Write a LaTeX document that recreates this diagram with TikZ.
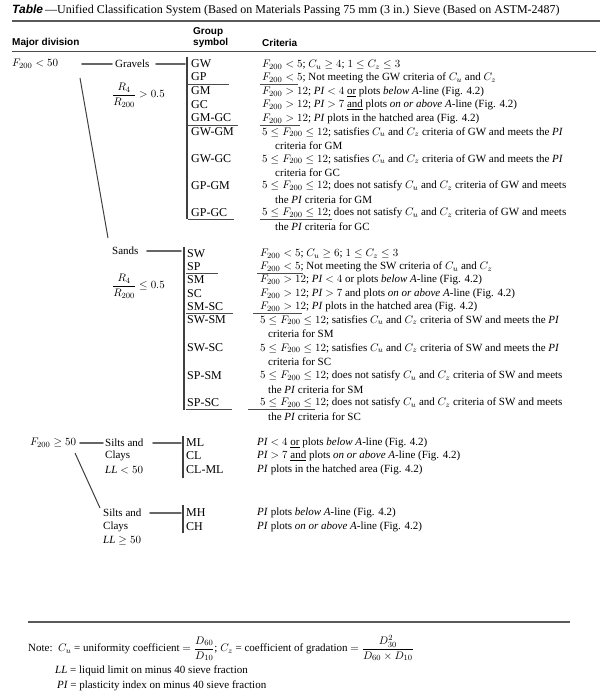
\documentclass[tikz,border=0pt]{standalone}
\usepackage{fontspec}
\setmainfont{Liberation Serif}
\setsansfont{Liberation Sans}
\usepackage{amsmath}
\begin{document}
\begin{tikzpicture}[x=1pt,y=-1pt,
  txt/.style={anchor=west,inner sep=0pt,font=\fontsize{11}{12}\selectfont},
  sym/.style={anchor=west,inner sep=0pt,font=\fontsize{12}{12}\selectfont},
  hdr/.style={anchor=west,inner sep=0pt,font=\sffamily\bfseries\fontsize{10}{11}\selectfont},
  bar/.style={line width=1.4pt,black!75},
  arr/.style={line width=1.8pt,black!60,line cap=round},
  thin/.style={line width=0.5pt,black!70},
  rule/.style={line width=2pt,black!65}]
\useasboundingbox (0,0) rectangle (607,700);
\newcommand{\F}{F_{200}}
\newcommand{\crit}[4]{\node[txt] (#1) at (#2,#3) {#4};}
% title
\node[txt,font=\fontsize{12}{13}\selectfont] (title) at (12,10) {\sffamily\bfseries\itshape Table\,\rmfamily\upshape\mdseries ---Unified Classification System (Based on Materials Passing 75 mm (3 in.) Sieve (Based on ASTM-2487)};
\draw[rule] (12,21) -- (600,21);
\node[hdr] (h1) at (12,43) {Major division};
\node[hdr] (h2) at (193,32) {Group};
\node[hdr] (h3) at (193,43) {symbol};
\node[hdr] (h4) at (262,43) {Criteria};
\draw[thin] (12,51) -- (596,51);
% gravels
\node[txt] (f1) at (12,64) {$\F<50$};
\draw[arr] (82,64) -- (112,64);
\node[txt] (grav) at (115,64) {Gravels};
\draw[arr] (156,64) -- (185,64);
\draw[bar] (187,57) -- (187,219);
\draw[line width=1pt,black!75] (80,78) -- (108,238);
\node[txt] (r1) at (112,95) {$\dfrac{R_4}{R_{200}}>0.5$};
\foreach \s/\y in {GW/64,GP/77,GM/91,GC/105,GM-GC/118,GW-GM/132,GW-GC/159,GP-GM/186,GP-GC/213}
  \node[sym] (g\s) at (191,\y) {\s};
\draw[thin] (188,84) -- (229,84);
\draw[thin] (188,125) -- (238,125);
\draw[thin] (188,219) -- (234,219);
\draw[thin] (260,84) -- (298,84);
\draw[thin] (260,125) -- (300,125);
\draw[thin] (260,219) -- (332,219);
\crit{c1}{262}{65}{$\F<5$; $C_u\geq 4$; $1\leq C_z\leq 3$}
\crit{c2}{262}{78}{$\F<5$; Not meeting the GW criteria of $C_u$ and $C_z$}
\crit{c3}{262}{92}{$\F>12$; $\mathit{PI}<4$ \underline{or} plots \textit{below A}-line (Fig. 4.2)}
\crit{c4}{262}{105}{$\F>12$; $\mathit{PI}>7$ \underline{and} plots \textit{on or above A}-line (Fig. 4.2)}
\crit{c5}{262}{119}{$\F>12$; \textit{PI} plots in the hatched area (Fig. 4.2)}
\crit{c6}{262}{132}{$5\leq\F\leq12$; satisfies $C_u$ and $C_z$ criteria of GW and meets the \textit{PI}}
\crit{c6b}{275}{146}{criteria for GM}
\crit{c7}{262}{159}{$5\leq\F\leq12$; satisfies $C_u$ and $C_z$ criteria of GW and meets the \textit{PI}}
\crit{c7b}{275}{173}{criteria for GC}
\crit{c8}{262}{186}{$5\leq\F\leq12$; does not satisfy $C_u$ and $C_z$ criteria of GW and meets}
\crit{c8b}{275}{200}{the \textit{PI} criteria for GM}
\crit{c9}{262}{213}{$5\leq\F\leq12$; does not satisfy $C_u$ and $C_z$ criteria of GW and meets}
\crit{c9b}{275}{227}{the \textit{PI} criteria for GC}
% sands
\node[txt] (sand) at (112,251) {Sands};
\draw[arr] (147,251) -- (181,251);
\draw[bar] (184,247) -- (184,410);
\node[txt] (r2) at (112,286) {$\dfrac{R_4}{R_{200}}\leq 0.5$};
\foreach \s/\y in {SW/254,SP/267,SM/280,SC/294,SM-SC/307,SW-SM/320,SW-SC/348,SP-SM/376,SP-SC/403}
  \node[sym] (s\s) at (187,\y) {\s};
\draw[thin] (186,273) -- (218,273);
\draw[thin] (186,313) -- (233,313);
\draw[thin] (186,409) -- (232,409);
\draw[thin] (257,273) -- (303,273);
\draw[thin] (253,313) -- (302,313);
\draw[thin] (248,409) -- (315,409);
\crit{d1}{260}{254}{$\F<5$; $C_u\geq 6$; $1\leq C_z\leq 3$}
\crit{d2}{260}{267}{$\F<5$; Not meeting the SW criteria of $C_u$ and $C_z$}
\crit{d3}{260}{280}{$\F>12$; $\mathit{PI}<4$ or plots \textit{below A}-line (Fig. 4.2)}
\crit{d4}{260}{294}{$\F>12$; $\mathit{PI}>7$ and plots \textit{on or above A}-line (Fig. 4.2)}
\crit{d5}{260}{307}{$\F>12$; \textit{PI} plots in the hatched area (Fig. 4.2)}
\crit{d6}{260}{320}{$5\leq\F\leq12$; satisfies $C_u$ and $C_z$ criteria of SW and meets the \textit{PI}}
\crit{d6b}{268}{334}{criteria for SM}
\crit{d7}{260}{348}{$5\leq\F\leq12$; satisfies $C_u$ and $C_z$ criteria of SW and meets the \textit{PI}}
\crit{d7b}{268}{362}{criteria for SC}
\crit{d8}{260}{376}{$5\leq\F\leq12$; does not satisfy $C_u$ and $C_z$ criteria of SW and meets}
\crit{d8b}{268}{390}{the \textit{PI} criteria for SM}
\crit{d9}{260}{403}{$5\leq\F\leq12$; does not satisfy $C_u$ and $C_z$ criteria of SW and meets}
\crit{d9b}{268}{417}{the \textit{PI} criteria for SC}
% silts
\node[txt] (f2) at (30,443) {$\F\geq50$};
\draw[arr] (80,443) -- (103,443);
\node[txt] (sc1) at (105,443) {Silts and};
\node[txt] (sc1b) at (105,456) {Clays};
\node[txt] (sc1c) at (105,470) {$\mathit{LL}<50$};
\draw[arr] (153,443) -- (181,443);
\draw[bar] (183,436) -- (183,478);
\draw[line width=1pt,black!75] (75,453) -- (100,508);
\node[sym] (m1) at (186,443) {ML};
\node[sym] (m2) at (186,456) {CL};
\node[sym] (m3) at (186,470) {CL-ML};
\crit{e1}{257}{443}{$\mathit{PI}<4$ \underline{or} plots \textit{below A}-line (Fig. 4.2)}
\crit{e2}{257}{456}{$\mathit{PI}>7$ \underline{and} plots \textit{on or above A}-line (Fig. 4.2)}
\crit{e3}{257}{470}{\textit{PI} plots in the hatched area (Fig. 4.2)}
\node[txt] (sc2) at (103,513) {Silts and};
\node[txt] (sc2b) at (103,527) {Clays};
\node[txt] (sc2c) at (103,541) {$\mathit{LL}\geq50$};
\draw[arr] (150,513) -- (181,513);
\draw[bar] (183,505) -- (183,533);
\node[sym] (m4) at (186,513) {MH};
\node[sym] (m5) at (186,527) {CH};
\crit{e4}{257}{513}{\textit{PI} plots \textit{below A}-line (Fig. 4.2)}
\crit{e5}{257}{527}{\textit{PI} plots \textit{on or above A}-line (Fig. 4.2)}
% note
\draw[rule] (28,622) -- (570,622);
\node[txt] (n1) at (28,648) {Note:\ \ $C_u$ = uniformity coefficient $=\dfrac{D_{60}}{D_{10}}$; $C_z$ = coefficient of gradation $=\dfrac{D_{30}^2}{D_{60}\times D_{10}}$};
\node[txt] (n2) at (55,671) {$\mathit{LL}$ = liquid limit on minus 40 sieve fraction};
\node[txt] (n3) at (57,686) {$\mathit{PI}$ = plasticity index on minus 40 sieve fraction};
\end{tikzpicture}
\end{document}
